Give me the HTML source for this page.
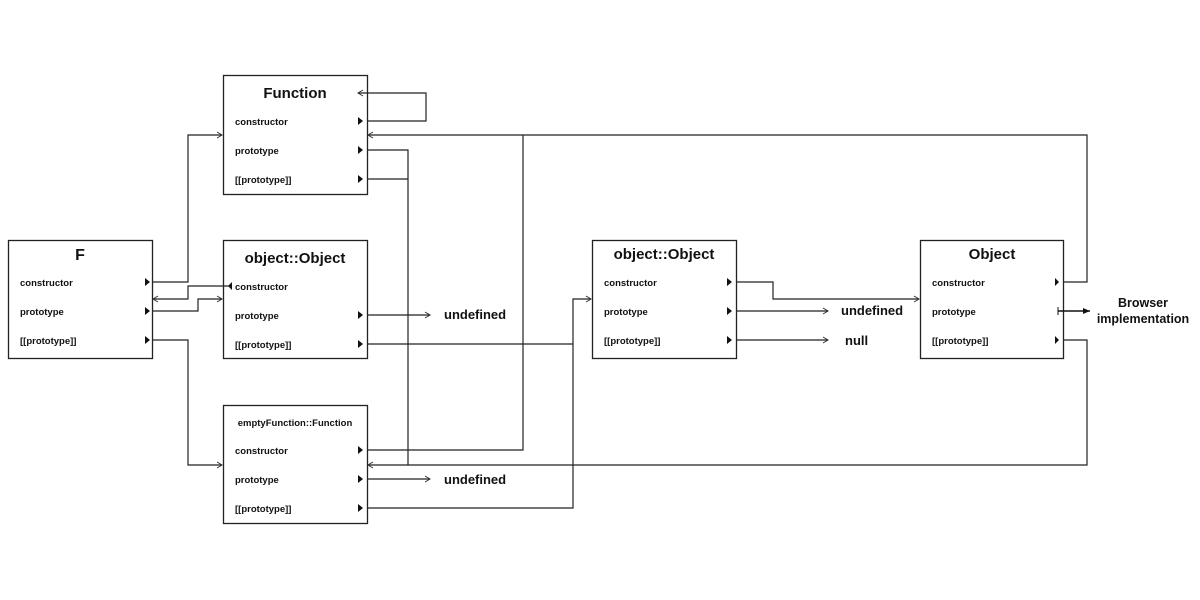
<!DOCTYPE html>
<html><head><meta charset="utf-8"><style>
html,body{margin:0;padding:0;background:#fff;width:1200px;height:600px;overflow:hidden}
svg{display:block}
text{font-family:"Liberation Sans",sans-serif;font-weight:bold;fill:#111}
.t{font-size:15px;text-anchor:middle}
.r{font-size:9.5px}
.u{font-size:13px}
</style></head><body>
<svg width="1200" height="600" viewBox="0 0 1200 600">
<defs>
<marker id="o" markerWidth="8" markerHeight="8" refX="6" refY="4" orient="auto" markerUnits="userSpaceOnUse"><path d="M1,1 L6,4 L1,7" fill="none" stroke="#333" stroke-width="1"/></marker>
<marker id="f" markerWidth="8" markerHeight="8" refX="7" refY="4" orient="auto" markerUnits="userSpaceOnUse"><path d="M0,1 L7,4 L0,7z" fill="#111"/></marker>
</defs>
<g fill="none" stroke="#222" stroke-width="1.3">
<rect x="8.5" y="240.5" width="144" height="118"/>
<rect x="223.5" y="75.5" width="144" height="119"/>
<rect x="223.5" y="240.5" width="144" height="118"/>
<rect x="223.5" y="405.5" width="144" height="118"/>
<rect x="592.5" y="240.5" width="144" height="118"/>
<rect x="920.5" y="240.5" width="143" height="118"/>
</g>
<g fill="#111">
<!-- triangles -->
<path d="M145,278 l5,4 l-5,4z"/><path d="M145,307 l5,4 l-5,4z"/><path d="M145,336 l5,4 l-5,4z"/>
<path d="M358,117 l5,4 l-5,4z"/><path d="M358,146 l5,4 l-5,4z"/><path d="M358,175 l5,4 l-5,4z"/>
<path d="M232,282 l-4,4 l4,4z"/><path d="M358,311 l5,4 l-5,4z"/><path d="M358,340 l5,4 l-5,4z"/>
<path d="M358,446 l5,4 l-5,4z"/><path d="M358,475 l5,4 l-5,4z"/><path d="M358,504 l5,4 l-5,4z"/>
<path d="M727,278 l5,4 l-5,4z"/><path d="M727,307 l5,4 l-5,4z"/><path d="M727,336 l5,4 l-5,4z"/>
<path d="M1055,278 l4,4 l-4,4z"/><path d="M1055,336 l4,4 l-4,4z"/>
</g>
<g fill="none" stroke="#222" stroke-width="1.2">
<!-- Function self loop -->
<path d="M367,121 H426 V93 H358" marker-end="url(#o)"/>
<!-- F.constructor -> Function -->
<path d="M152,282 H188 V135 H222" marker-end="url(#o)"/>
<!-- object.constructor -> F -->
<path d="M229,286 H188 V299 H153" marker-end="url(#o)"/>
<!-- F.prototype -> object -->
<path d="M152,311 H198 V299 H222" marker-end="url(#o)"/>
<!-- F.[[prototype]] -> emptyFunction -->
<path d="M152,340 H188 V465 H222" marker-end="url(#o)"/>
<!-- Function.prototype / [[prototype]] -> emptyFunction -->
<path d="M367,150 H408 V465 H368" marker-end="url(#o)"/>
<path d="M367,179 H408"/>
<!-- Object.[[prototype]] -> emptyFunction -->
<path d="M1063,340 H1087 V465 H408"/>
<!-- Object.constructor -> Function -->
<path d="M1063,282 H1087 V135 H368" marker-end="url(#o)"/>
<!-- emptyFunction.constructor -->
<path d="M367,450 H523 V135"/>
<!-- undefined arrows -->
<path d="M367,315 H430" marker-end="url(#o)"/>
<path d="M367,479 H430" marker-end="url(#o)"/>
<!-- object.[[prototype]] -> mid object -->
<path d="M367,344 H573"/>
<path d="M367,508 H573 V299 H591" marker-end="url(#o)"/>
<!-- mid -->
<path d="M736,282 H773 V299 H919" marker-end="url(#o)"/>
<path d="M736,311 H828" marker-end="url(#o)"/>
<path d="M736,340 H828" marker-end="url(#o)"/>
</g>
<path d="M1058,311 H1090" stroke="#111" stroke-width="1.5" marker-end="url(#f)"/>
<path d="M1058,307 V315" stroke="#111" stroke-width="1"/>

<text class="t" x="80" y="260" style="font-size:16px">F</text>
<text class="r" x="20" y="286">constructor</text>
<text class="r" x="20" y="315">prototype</text>
<text class="r" x="20" y="344">[[prototype]]</text>

<text class="t" x="295" y="98">Function</text>
<text class="r" x="235" y="125">constructor</text>
<text class="r" x="235" y="154">prototype</text>
<text class="r" x="235" y="183">[[prototype]]</text>

<text class="t" x="295" y="263">object::Object</text>
<text class="r" x="235" y="290">constructor</text>
<text class="r" x="235" y="319">prototype</text>
<text class="r" x="235" y="348">[[prototype]]</text>

<text class="t" x="295" y="426" style="font-size:9.5px">emptyFunction::Function</text>
<text class="r" x="235" y="454">constructor</text>
<text class="r" x="235" y="483">prototype</text>
<text class="r" x="235" y="512">[[prototype]]</text>

<text class="t" x="664" y="259">object::Object</text>
<text class="r" x="604" y="286">constructor</text>
<text class="r" x="604" y="315">prototype</text>
<text class="r" x="604" y="344">[[prototype]]</text>

<text class="t" x="992" y="259">Object</text>
<text class="r" x="932" y="286">constructor</text>
<text class="r" x="932" y="315">prototype</text>
<text class="r" x="932" y="344">[[prototype]]</text>

<text class="u" x="444" y="319">undefined</text>
<text class="u" x="444" y="484">undefined</text>
<text class="u" x="841" y="315">undefined</text>
<text class="u" x="845" y="345">null</text>
<text class="t" x="1143" y="307" style="font-size:12.5px">Browser</text>
<text class="t" x="1143" y="323" style="font-size:12.5px">implementation</text>
</svg>
</body></html>
